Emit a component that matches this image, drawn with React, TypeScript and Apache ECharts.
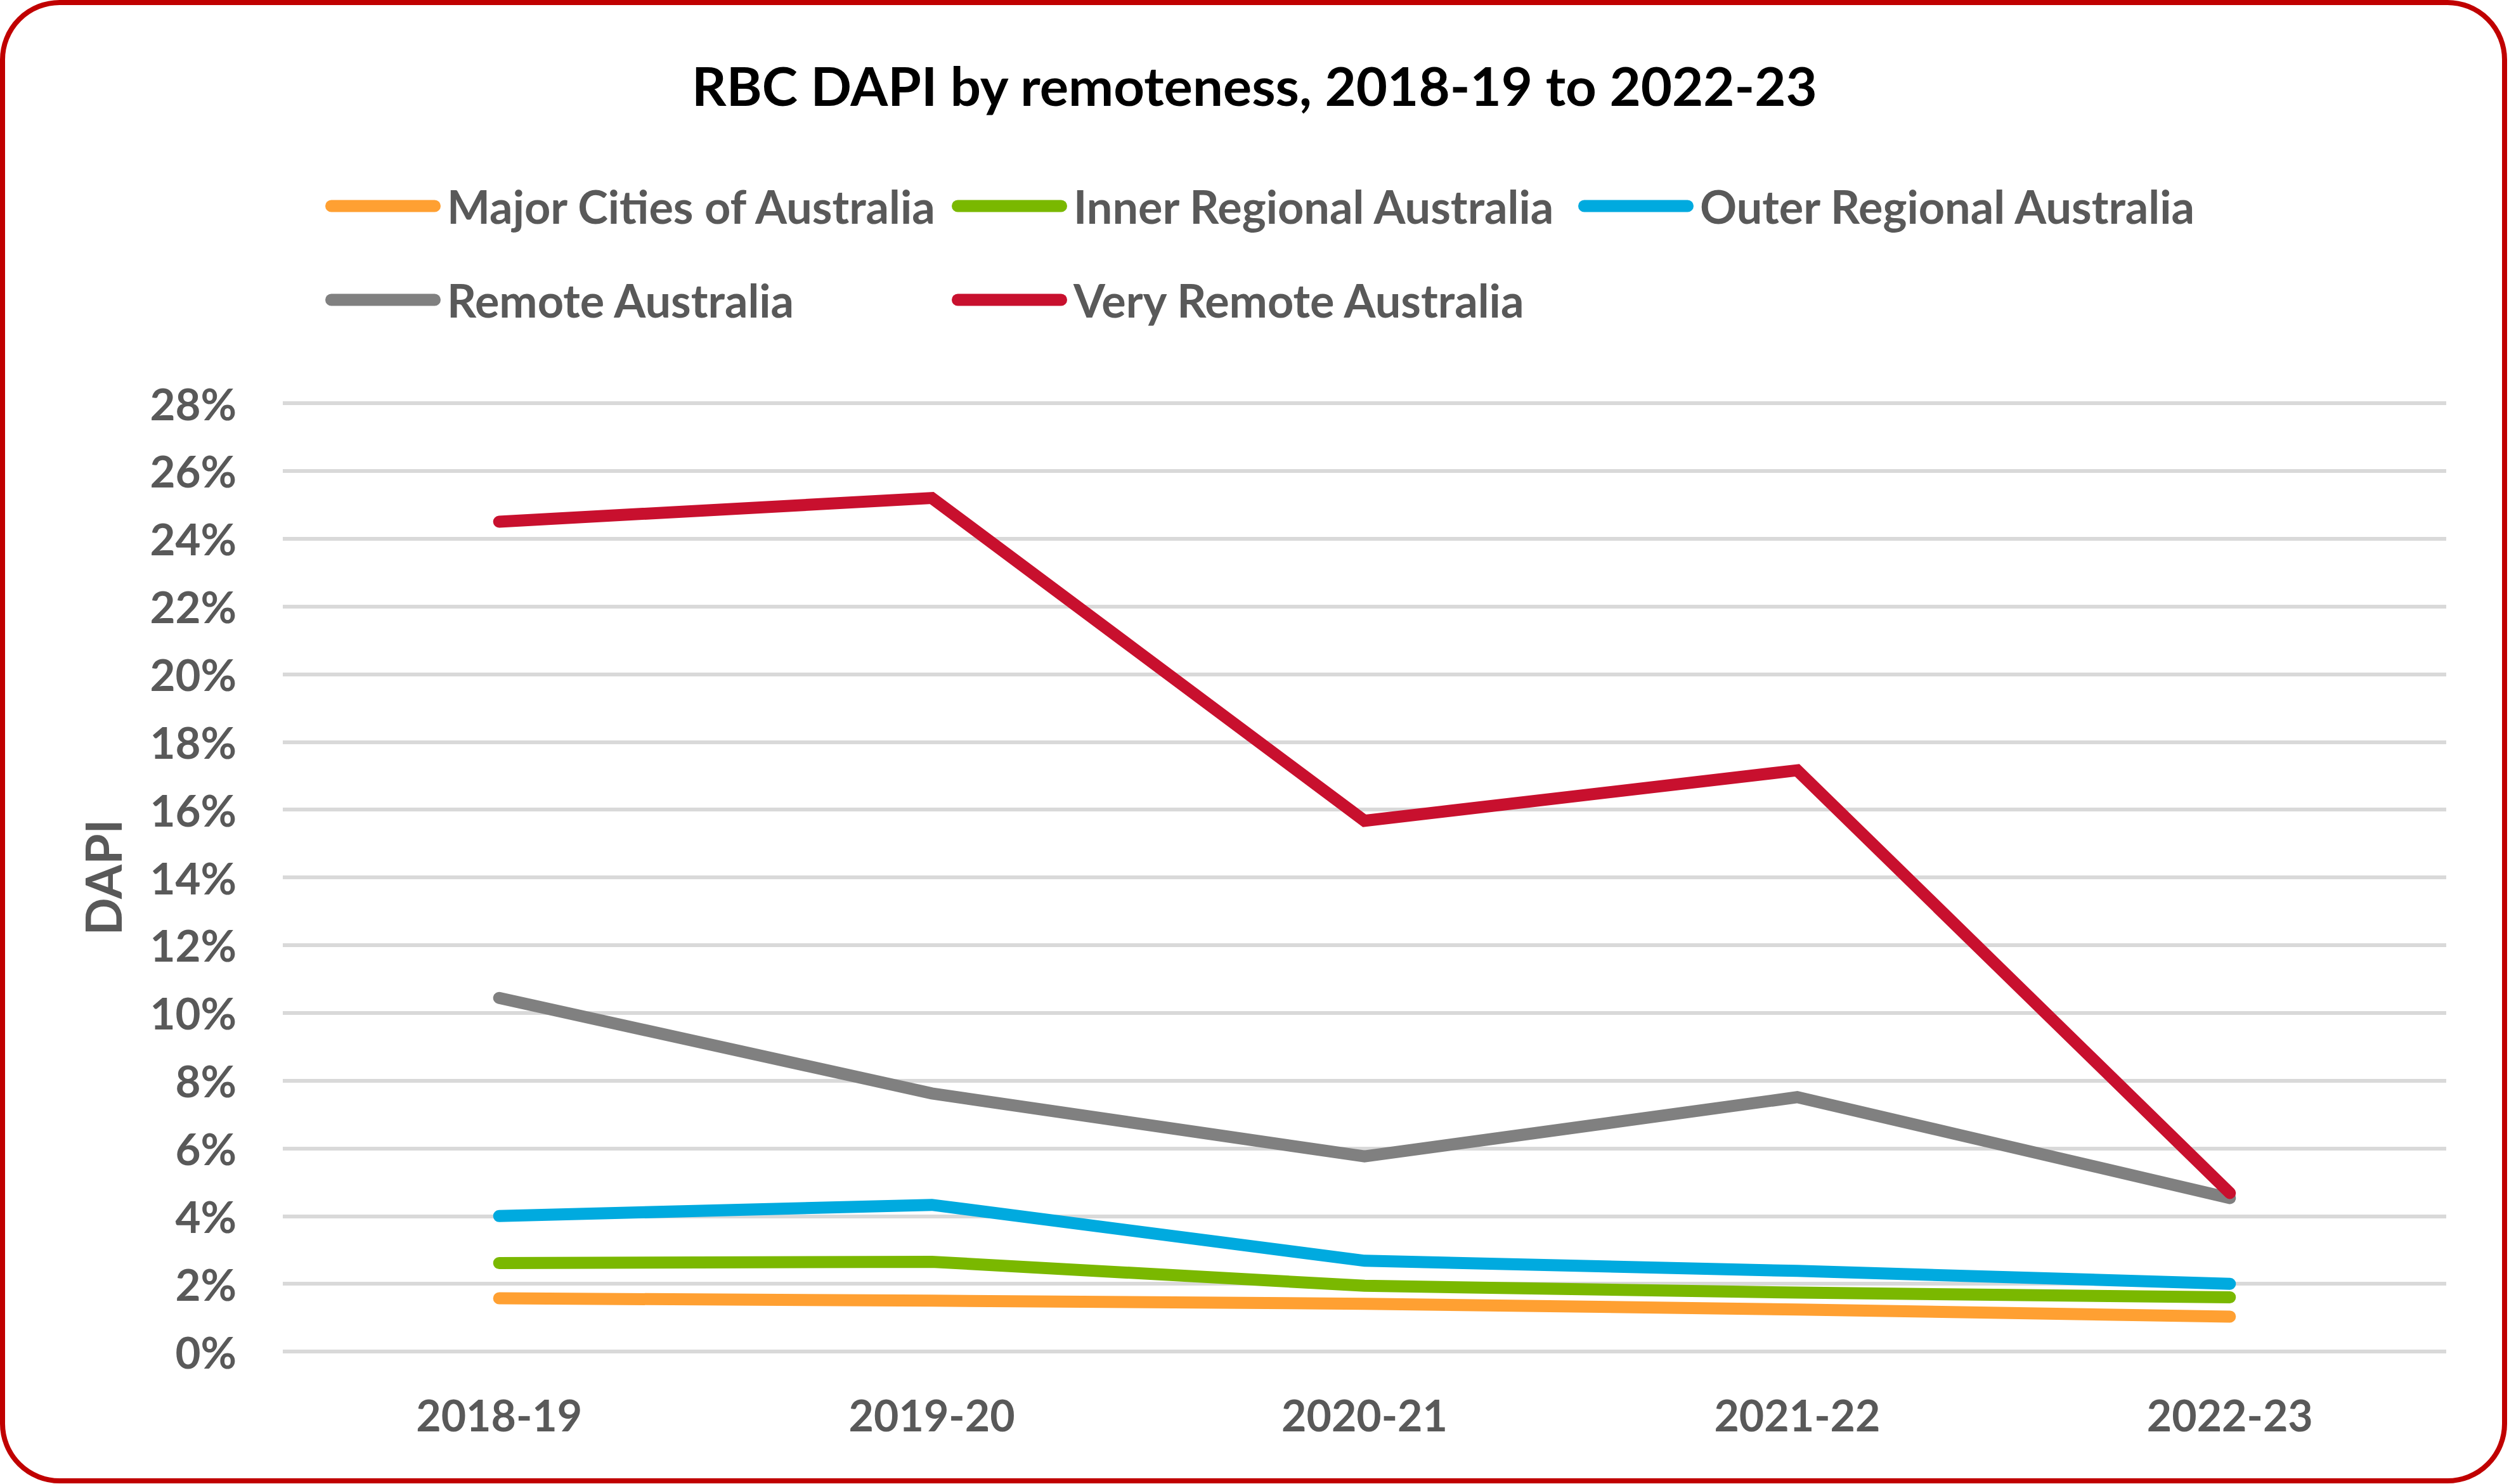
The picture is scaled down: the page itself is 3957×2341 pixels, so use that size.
import React, { useEffect, useRef } from "react";
import * as echarts from "echarts";

const categories = ["2018-19", "2019-20", "2020-21", "2021-22", "2022-23"];
const seriesNames = [
  "Major Cities of Australia",
  "Inner Regional Australia",
  "Outer Regional Australia",
  "Remote Australia",
  "Very Remote Australia",
];
const majorCities = [1.57, 1.5, 1.41, 1.24, 1.03];
const innerRegional = [2.61, 2.65, 1.94, 1.74, 1.6];
const outerRegional = [4.0, 4.33, 2.68, 2.38, 2.0];
const remote = [10.44, 7.62, 5.76, 7.51, 4.53];
const veryRemote = [24.5, 25.2, 15.67, 17.16, 4.68];
const seriesColors = ["#FFA032", "#7AB800", "#00AADF", "#808080", "#C8102E"];

const W = 3957;
const H = 2341;
const FONT = "Lato";
const legendIcon =
  "path://M9.5,0 L172.5,0 A9.5,9.5 0 0 1 172.5,19 L9.5,19 A9.5,9.5 0 0 1 9.5,0 Z";

export default function App() {
  const ref = useRef<HTMLDivElement>(null);
  useEffect(() => {
    document.body.style.margin = "0";
    const chart = echarts.init(ref.current!, null, { renderer: "svg" });
    const values = [majorCities, innerRegional, outerRegional, remote, veryRemote];
    const legendPos = [
      [513, 0],
      [1501, 0],
      [2489, 0],
      [513, 1],
      [1501, 1],
    ];
    const rowTop = [289, 437];
    chart.setOption({
      animation: false,
      backgroundColor: "#ffffff",
      title: {
        text: "RBC DAPI by remoteness, 2018-19 to 2022-23",
        left: "center",
        top: 86,
        textStyle: { fontFamily: FONT, fontSize: 85, fontWeight: "bold", color: "#000000" },
      },
      legend: seriesNames.map((n, i) => ({
        data: [n],
        left: legendPos[i][0],
        top: rowTop[legendPos[i][1]],
        padding: 0,
        icon: legendIcon,
        itemWidth: 182,
        itemHeight: 19,
        itemStyle: { borderWidth: 0 },
        selectedMode: false,
        textStyle: {
          fontFamily: FONT,
          fontSize: 72,
          fontWeight: "bold",
          color: "#595959",
          padding: [0, 0, 0, 5],
        },
      })),
      grid: { left: 446, right: W - 3858, top: 636, bottom: H - 2132, containLabel: false },
      xAxis: {
        type: "category",
        data: categories,
        boundaryGap: true,
        axisLine: { show: false },
        axisTick: { show: false },
        axisLabel: {
          margin: 65,
          fontFamily: FONT,
          fontSize: 68,
          fontWeight: "bold",
          color: "#595959",
        },
      },
      yAxis: {
        type: "value",
        min: 0,
        max: 28,
        interval: 2,
        name: "DAPI",
        nameLocation: "middle",
        nameRotate: 90,
        nameGap: 245,
        nameTextStyle: { fontFamily: FONT, fontSize: 78, fontWeight: "bold", color: "#595959" },
        axisLine: { show: false },
        axisTick: { show: false },
        axisLabel: {
          margin: 73,
          formatter: "{value}%",
          fontFamily: FONT,
          fontSize: 69,
          fontWeight: "bold",
          color: "#595959",
        },
        splitLine: { show: true, lineStyle: { color: "#D9D9D9", width: 6 } },
      },
      series: seriesNames.map((n, i) => ({
        name: n,
        type: "line",
        data: values[i],
        symbol: "none",
        color: seriesColors[i],
        lineStyle: { width: 19, color: seriesColors[i], cap: "round", join: "miter" },
        itemStyle: { color: seriesColors[i] },
      })),
      graphic: [
        {
          type: "rect",
          shape: { x: 4, y: 4, width: 3946, height: 2332, r: 90 },
          style: { fill: "none", stroke: "#C00000", lineWidth: 8 },
          silent: true,
          z: 100,
        },
      ],
    });
    return () => chart.dispose();
  }, []);
  return (
    <div
      ref={ref}
      style={{ position: "absolute", left: 0, top: 0, width: W, height: H }}
    />
  );
}
